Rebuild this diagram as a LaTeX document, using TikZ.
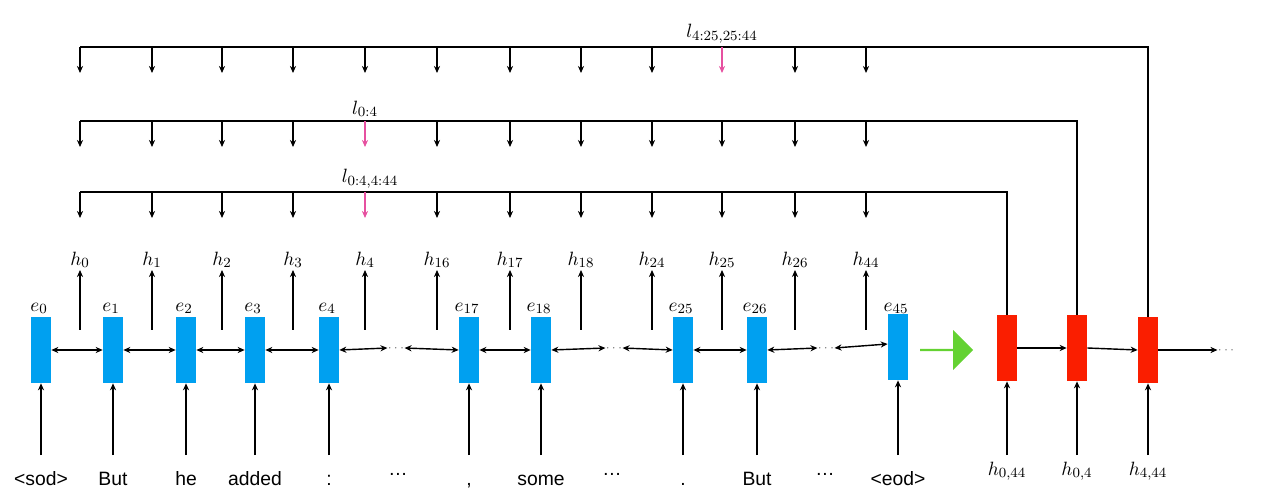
\documentclass[tikz,border=0pt]{standalone}
\usepackage{fontspec}
\setsansfont{Liberation Sans}
\usetikzlibrary{arrows.meta,shapes.arrows}
\definecolor{eblue}{RGB}{0,160,240}
\definecolor{dred}{RGB}{250,30,0}
\definecolor{agreen}{RGB}{100,210,50}
\definecolor{lpink}{RGB}{230,80,160}
\begin{document}
\begin{tikzpicture}[x=0.02cm,y=-0.02cm,
  enc/.style={fill=eblue,draw=none,minimum width=0.4cm,minimum height=1.32cm,inner sep=0},
  dec/.style={fill=dred,draw=none,minimum width=0.4cm,minimum height=1.32cm,inner sep=0},
  ar/.style={-{Stealth[length=4pt,width=3.5pt]},line width=0.8pt},
  bar/.style={{Stealth[length=4pt,width=3.5pt]}-{Stealth[length=4pt,width=3.5pt]},line width=0.8pt},
  wd/.style={font=\sffamily\fontsize{11}{13}\selectfont,anchor=base},
  lb/.style={font=\fontsize{11}{13}\selectfont,inner sep=1pt},
  dots/.style={font=\tiny,inner sep=0}]
\useasboundingbox (0,0) rectangle (1266,499);
% encoder boxes
\foreach \n/\x/\y/\lab in {0/41/350/0,1/113/350/1,2/186/350/2,3/255/350/3,4/329/350/4,17/469/350/17,18/541/350/18,25/683/350/25,26/757/350/26,45/898/347/45}{
  \node[enc] (e\n) at (\x,\y) {};
  \node[lb,anchor=south] (el\n) at (\x-2,316) {$e_{\lab}$};
}
% words
\foreach \n/\w in {0/{<sod>},1/But,2/he,3/added,4/{:},17/{,},18/some,25/{.},26/But,45/{<eod>}}{
  \node[wd] (w\n) at ([yshift=-0.2cm]e\n.center |- 0,475) {\w};
  \coordinate (i\n) at (e\n.center |- 0,455);
  \draw[ar] (i\n) -- (e\n.south);
}
\node[wd] (d1) at (398,475) {\dots};
\node[wd] (d2) at (612,475) {\dots};
\node[wd] (d3) at (825,475) {\dots};
% horizontal links
\draw[bar] (e0.east) -- (e1.west);
\draw[bar] (e1.east) -- (e2.west);
\draw[bar] (e2.east) -- (e3.west);
\draw[bar] (e3.east) -- (e4.west);
\draw[bar] (e17.east) -- (e18.west);
\draw[bar] (e25.east) -- (e26.west);
\node[dots] (m1) at (396,348) {$\cdots$};
\node[dots] (m2) at (614,348) {$\cdots$};
\node[dots] (m3) at (826,348) {$\cdots$};
\draw[bar] (e4.east) -- (m1.west);
\draw[bar] (m1.east) -- (e17.west);
\draw[bar] (e18.east) -- (m2.west);
\draw[bar] (m2.east) -- (e25.west);
\draw[bar] (e26.east) -- (m3.west);
\draw[bar] (m3.east) -- ([yshift=0.06cm]e45.west);
% hidden outputs
\foreach \i/\x/\lab in {a/80/0,b/152/1,c/222/2,d/293/3,e/365/4,f/437/16,g/510/17,h/581/18,k/652/24,l/722/25,m/795/26,n/866/44}{
  \coordinate (hb\i) at (\x,330);
  \coordinate (ht\i) at (\x,270);
  \draw[ar] (hb\i) -- (ht\i);
  \node[lb,anchor=south] (hl\i) at (ht\i) {$h_{\lab}$};
}
% green arrow
\node[single arrow,fill=agreen,draw=none,minimum height=1.06cm,minimum width=0.8cm,single arrow head extend=0.12cm,inner sep=0] (ga) at (946,350) {};
% decoder
\node[dec] (r1) at (1007,348) {};
\node[dec] (r2) at (1077,348) {};
\node[dec] (r3) at (1148,350) {};
\node[dots] (m4) at (1226,350) {$\cdots$};
\draw[ar] (r1.east) -- (r2.west);
\draw[ar] (r2.east) -- (r3.west);
\draw[ar] (r3.east) -- (m4.west);
\foreach \r/\lab in {r1/{0,44},r2/{0,4},r3/{4,44}}{
  \coordinate (b\r) at (\r.center |- 0,455);
  \draw[ar] (b\r) -- (\r.south);
  \node[lb,anchor=base] (t\r) at (\r.center |- 0,475) {$h_{\lab}$};
}
% brackets
\foreach \row/\y/\r/\pk in {A/47/r3/722,B/121/r2/365,C/192/r1/365}{
  \coordinate (s\row) at (80,\y);
  \coordinate (c\row) at (\r.north |- 0,\y);
  \draw[line width=0.8pt] (s\row) -- (c\row) -- (\r.north);
  \foreach \x in {80,152,222,293,365,437,510,581,652,722,795,866}{
    \ifnum\x=\pk
      \draw[ar,lpink] (\x,\y) -- (\x,\y+26);
    \else
      \draw[ar] (\x,\y) -- (\x,\y+26);
    \fi
  }
}
\node[lb,anchor=south] (lA) at (722,45) {$l_{4:25,25:44}$};
\node[lb,anchor=south] (lB) at (365,119) {$l_{0:4}$};
\node[lb,anchor=south] (lC) at (370,190) {$l_{0:4,4:44}$};
\end{tikzpicture}
\end{document}
